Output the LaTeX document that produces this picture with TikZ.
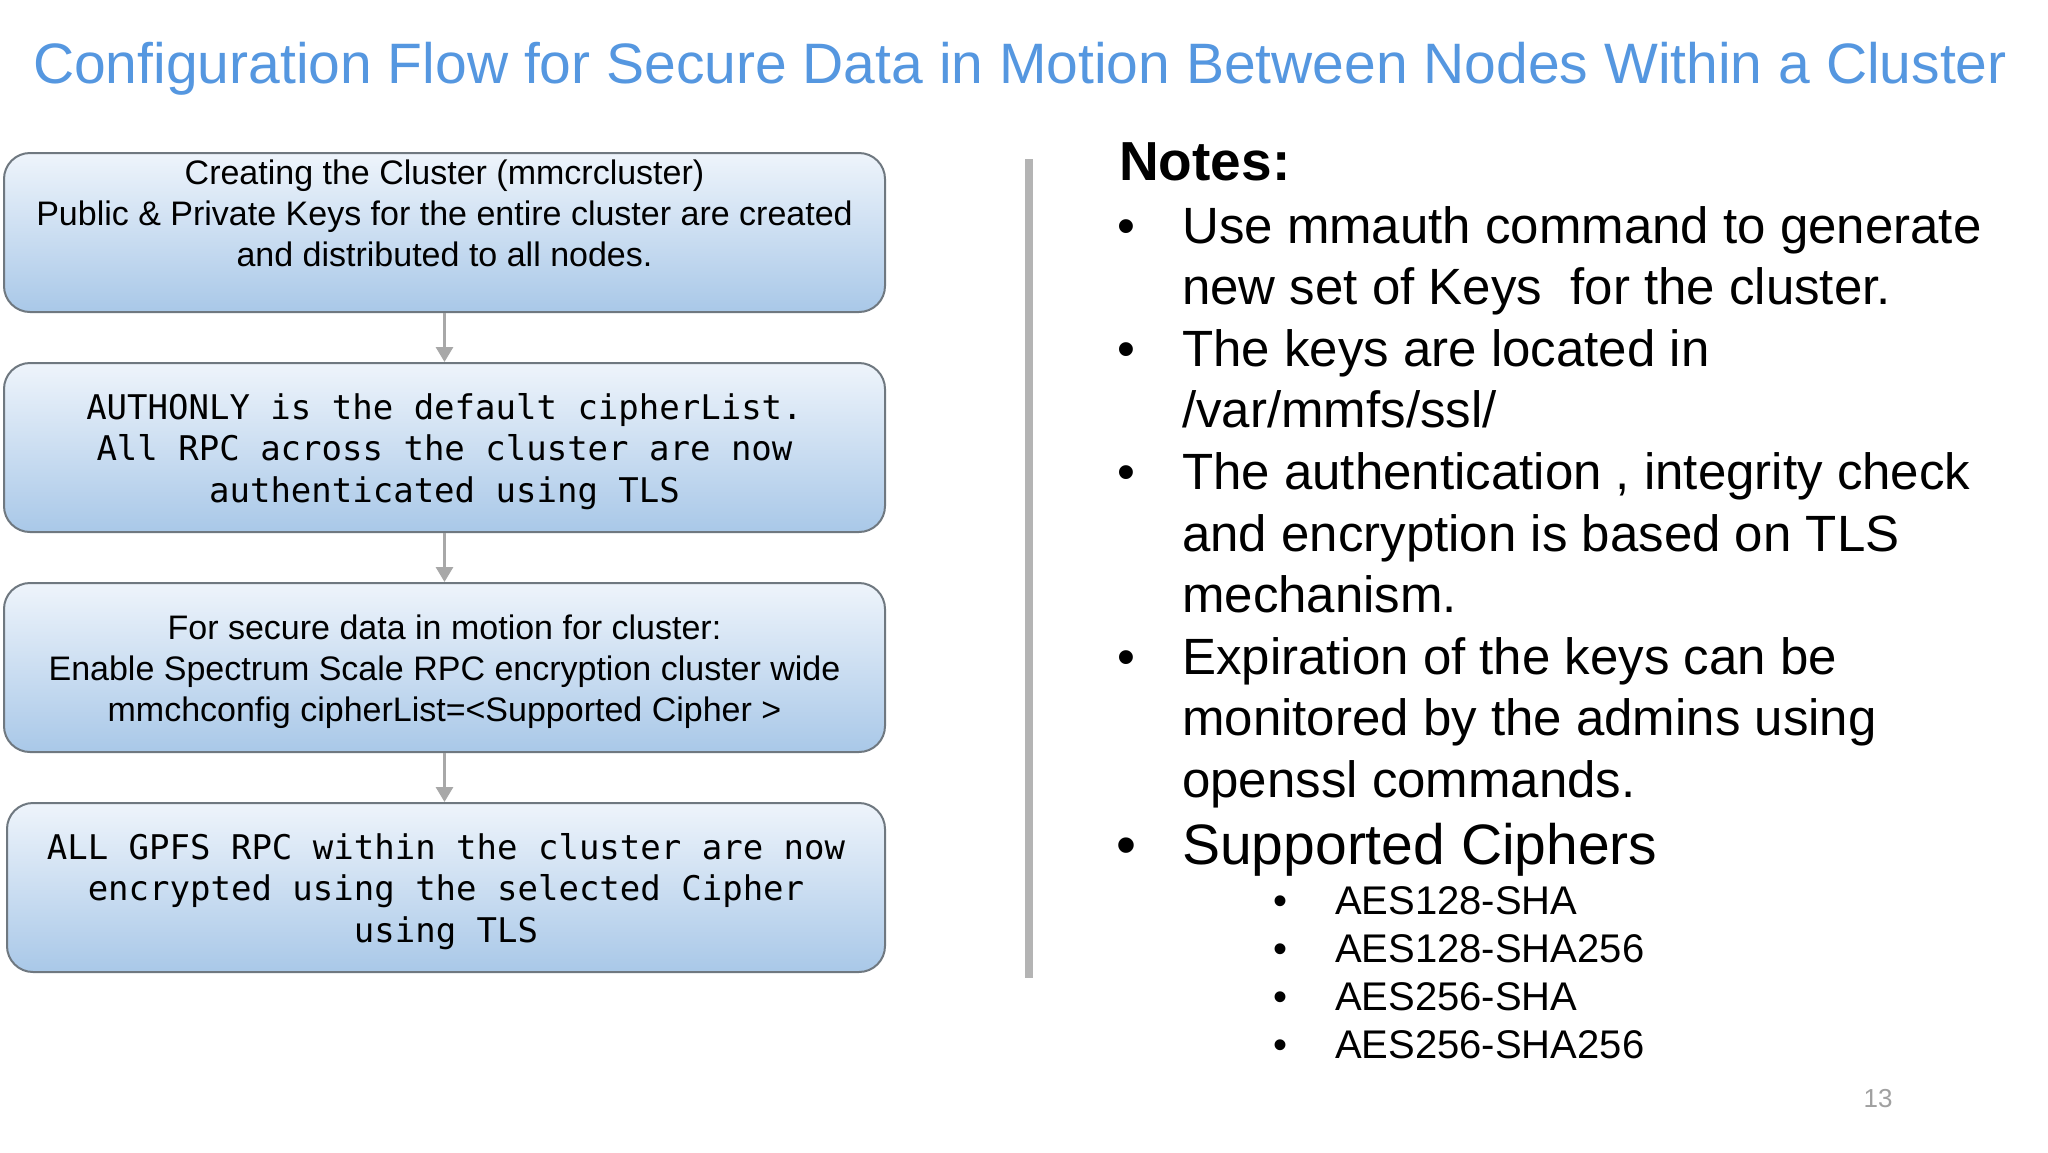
\documentclass[tikz,border=0pt]{standalone}
\usepackage{fontspec}
\setmainfont{Liberation Sans}
\newfontfamily\monof{DejaVu Sans Mono}
\usetikzlibrary{arrows.meta}
\definecolor{titleblue}{HTML}{5597E0}
\definecolor{boxtop}{HTML}{EEF4FB}
\definecolor{boxbot}{HTML}{A9C8E8}
\definecolor{boxline}{HTML}{6F7880}
\definecolor{arrgray}{HTML}{A8A8A8}
\definecolor{bargray}{HTML}{B4B4B4}
\definecolor{pagegray}{HTML}{A0A0A0}
\begin{document}
\begin{tikzpicture}[x=1pt,y=-1pt,
  flowbox/.style={draw=boxline, line width=2pt, rounded corners=26pt, top color=boxtop, bottom color=boxbot, minimum width=881pt, minimum height=169pt, inner sep=0pt},
  sanstxt/.style={align=center, inner sep=0pt, font=\fontsize{34}{41}\selectfont},
  monotxt/.style={align=center, inner sep=0pt, font=\monof\fontsize{34}{41.3}\selectfont},
  arr/.style={draw=arrgray, line width=3pt, -{Triangle[length=15pt,width=17pt]}},
  note/.style={anchor=base west, inner sep=0pt, font=\fontsize{51}{61}\selectfont},
  bul/.style={anchor=base, inner sep=0pt, font=\fontsize{51}{61}\selectfont},
  subnote/.style={anchor=base west, inner sep=0pt, font=\fontsize{40}{48}\selectfont},
  subbul/.style={anchor=base, inner sep=0pt, font=\fontsize{40}{48}\selectfont}]
\useasboundingbox[fill=white] (0,0) rectangle (2048,1152);

% title
\node[anchor=base, inner sep=0pt, text=titleblue, font=\fontsize{57}{68}\selectfont] (title) at (1020,83) {Configuration Flow for Secure Data in Motion Between Nodes Within a Cluster};

% flow boxes
\node[flowbox, minimum height=159pt] (b1) at (444.5,232.5) {};
\node[sanstxt] (t1) at (444.5,213) {Creating the Cluster (mmcrcluster)\\Public \& Private Keys for the entire cluster are created\\and distributed to all nodes.};
\node[flowbox] (b2) at (444.5,447.5) {};
\node[monotxt] (t2) at (444.5,451.5) {AUTHONLY is the default cipherList.\\All RPC across the cluster are now\\authenticated using TLS};
\node[flowbox] (b3) at (444.5,667.5) {};
\node[sanstxt] (t3) at (444.5,672) {For secure data in motion for cluster:\\Enable Spectrum Scale RPC encryption cluster wide\\mmchconfig cipherList=<Supported Cipher >};
\node[flowbox, minimum width=878pt] (b4) at (446,887.5) {};
\node[monotxt] (t4) at (446,891.5) {ALL GPFS RPC within the cluster are now\\encrypted using the selected Cipher\\using TLS};

\draw[arr] (b1.south) -- (b1.south |- b2.north);
\draw[arr] (b2.south) -- (b2.south |- b3.north);
\draw[arr] (b3.south) -- (b3.south |- b4.north);

% separator
\draw[bargray, line width=8pt] (1029,159) -- (1029,978);

% notes
\node[anchor=base west, inner sep=0pt, font=\bfseries\fontsize{55}{66}\selectfont] (notes) at (1119,180) {Notes:};
\node[bul] (u1) at (1126,243) {•};
\node[note] (n1) at (1182,243) {Use mmauth command to generate};
\node[note] (n2) at (1182,304.6) {new set of Keys\ \ for the cluster.};
\node[bul] (u2) at (1126,366.2) {•};
\node[note] (n3) at (1182,366.2) {The keys are located in};
\node[note] (n4) at (1182,427.8) {/var/mmfs/ssl/};
\node[bul] (u3) at (1126,489.4) {•};
\node[note] (n5) at (1182,489.4) {The authentication , integrity check};
\node[note] (n6) at (1182,551) {and encryption is based on TLS};
\node[note] (n7) at (1182,612.6) {mechanism.};
\node[bul] (u4) at (1126,674.2) {•};
\node[note] (n8) at (1182,674.2) {Expiration of the keys can be};
\node[note] (n9) at (1182,735.8) {monitored by the admins using};
\node[note] (n10) at (1182,797.4) {openssl commands.};
\node[bul, font=\fontsize{57}{68}\selectfont] (u5) at (1126,864) {•};
\node[note, font=\fontsize{57}{68}\selectfont] (n11) at (1182,864) {Supported Ciphers};
\node[subbul] (s1b) at (1280,914) {•};
\node[subnote] (s1) at (1335,914) {AES128-SHA};
\node[subbul] (s2b) at (1280,962) {•};
\node[subnote] (s2) at (1335,962) {AES128-SHA256};
\node[subbul] (s3b) at (1280,1010) {•};
\node[subnote] (s3) at (1335,1010) {AES256-SHA};
\node[subbul] (s4b) at (1280,1058) {•};
\node[subnote] (s4) at (1335,1058) {AES256-SHA256};

% page number
\node[text=pagegray, inner sep=0pt, font=\fontsize{26}{30}\selectfont] (pg) at (1878,1099) {13};
\end{tikzpicture}
\end{document}
